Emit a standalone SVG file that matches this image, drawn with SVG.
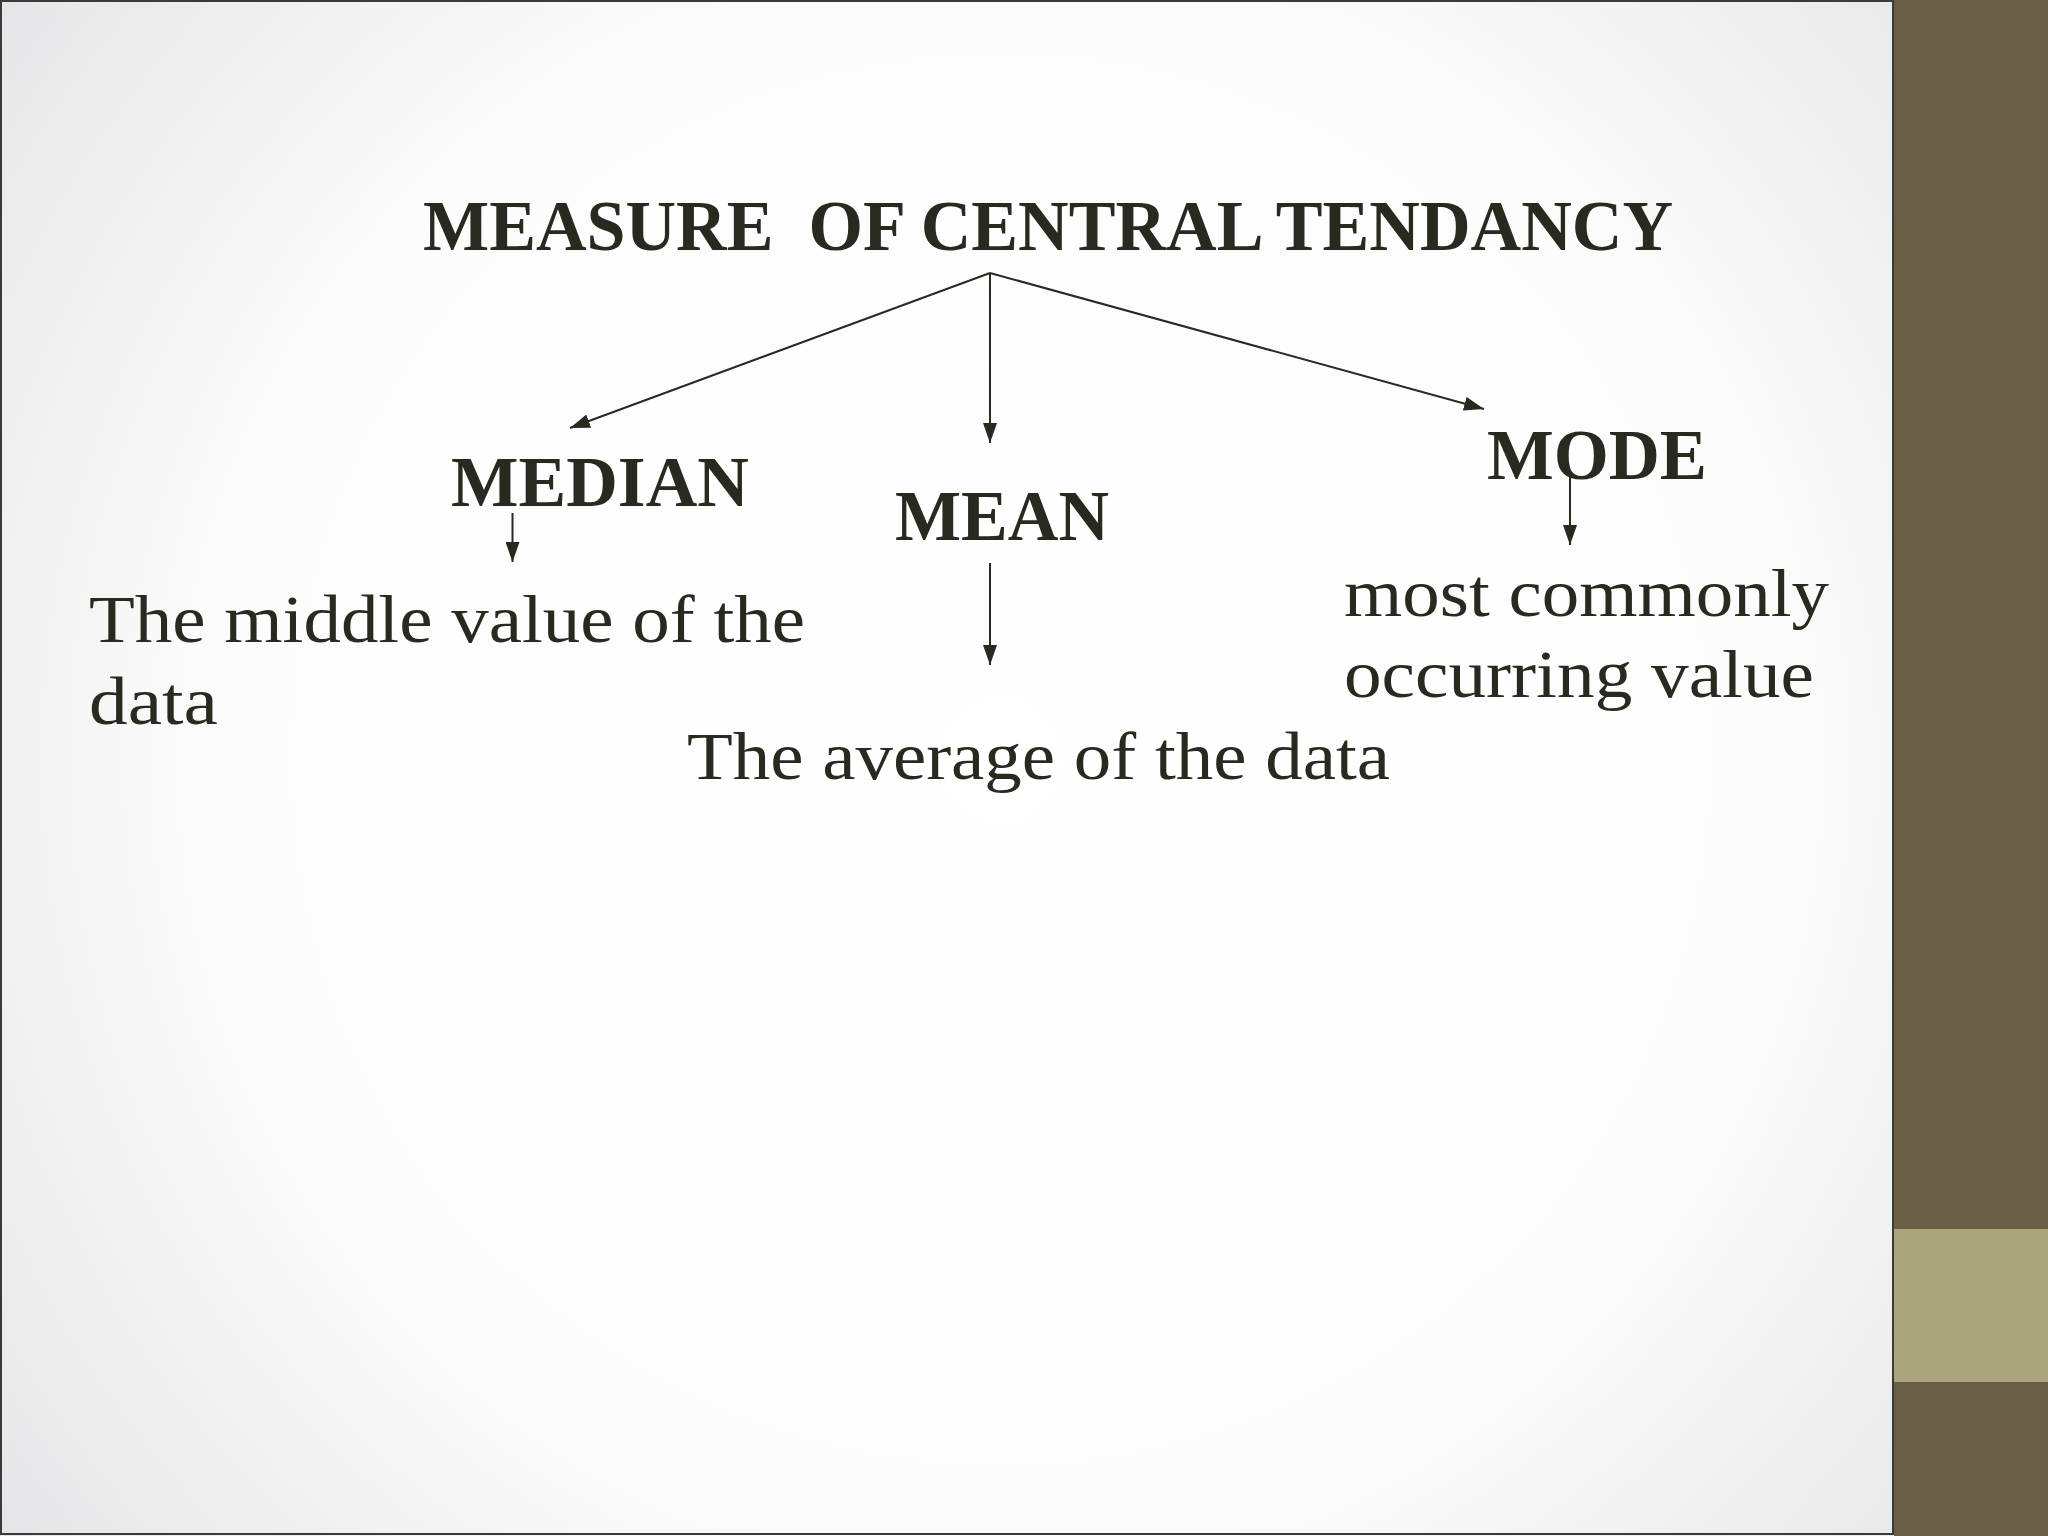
<svg xmlns="http://www.w3.org/2000/svg" width="2048" height="1536" viewBox="0 0 2048 1536">
  <style>
    .t { font-family: "Liberation Serif", "DejaVu Serif", serif; fill: #2a2920; }
    .h { font-weight: bold; font-size: 72px; }
    .b { font-size: 68px; }
    .c { stroke: #2a2920; stroke-width: 2; fill: none; marker-end: url(#ah); }
  </style>
  <defs>
    <radialGradient id="bg" gradientUnits="userSpaceOnUse" cx="1000" cy="760" r="1250">
      <stop offset="0" stop-color="#ffffff"/>
      <stop offset="0.62" stop-color="#fcfcfc"/>
      <stop offset="1" stop-color="#e6e6e8"/>
    </radialGradient>
    <marker id="ah" markerUnits="userSpaceOnUse" markerWidth="22" markerHeight="14" refX="20" refY="7" orient="auto">
      <path d="M0,0 L20,7 L0,14 z" fill="#2a2920"/>
    </marker>
  </defs>

  <rect x="0" y="0" width="1894" height="1536" fill="url(#bg)"/>
  <rect x="1" y="1" width="1892" height="1533" fill="none" stroke="#3a3a3a" stroke-width="2"/>
  <rect x="1894" y="0" width="154" height="1536" fill="#695e46"/>
  <rect x="1894" y="1229" width="154" height="153" fill="#aba57f"/>

  <g id="connectors">
    <line class="c" x1="990" y1="273" x2="570" y2="428"/>
    <line class="c" x1="990" y1="273" x2="990" y2="443"/>
    <line class="c" x1="990" y1="273" x2="1484" y2="409"/>
    <line class="c" x1="512.5" y1="513" x2="512.5" y2="562"/>
    <line class="c" x1="990" y1="563" x2="990" y2="665"/>
    <line class="c" x1="1570" y1="477" x2="1570" y2="545"/>
  </g>

  <g id="title">
    <text class="t h" x="423" y="250" textLength="1250" lengthAdjust="spacingAndGlyphs" xml:space="preserve">MEASURE  OF CENTRAL TENDANCY</text>
  </g>
  <g id="median">
    <text class="t h" x="451" y="506" textLength="298" lengthAdjust="spacingAndGlyphs">MEDIAN</text>
  </g>
  <g id="mean">
    <text class="t h" x="895" y="540" textLength="214" lengthAdjust="spacingAndGlyphs">MEAN</text>
  </g>
  <g id="mode">
    <text class="t h" x="1487" y="479" textLength="220" lengthAdjust="spacingAndGlyphs">MODE</text>
  </g>
  <g id="median-desc">
    <text class="t b" x="89" y="642" textLength="716" lengthAdjust="spacingAndGlyphs">The middle value of the</text>
    <text class="t b" x="89" y="724" textLength="129" lengthAdjust="spacingAndGlyphs">data</text>
  </g>
  <g id="mean-desc">
    <text class="t b" x="687" y="779" textLength="703" lengthAdjust="spacingAndGlyphs">The average of the data</text>
  </g>
  <g id="mode-desc">
    <text class="t b" x="1344" y="616" textLength="485" lengthAdjust="spacingAndGlyphs">most commonly</text>
    <text class="t b" x="1344" y="697" textLength="470" lengthAdjust="spacingAndGlyphs">occurring value</text>
  </g>
</svg>
